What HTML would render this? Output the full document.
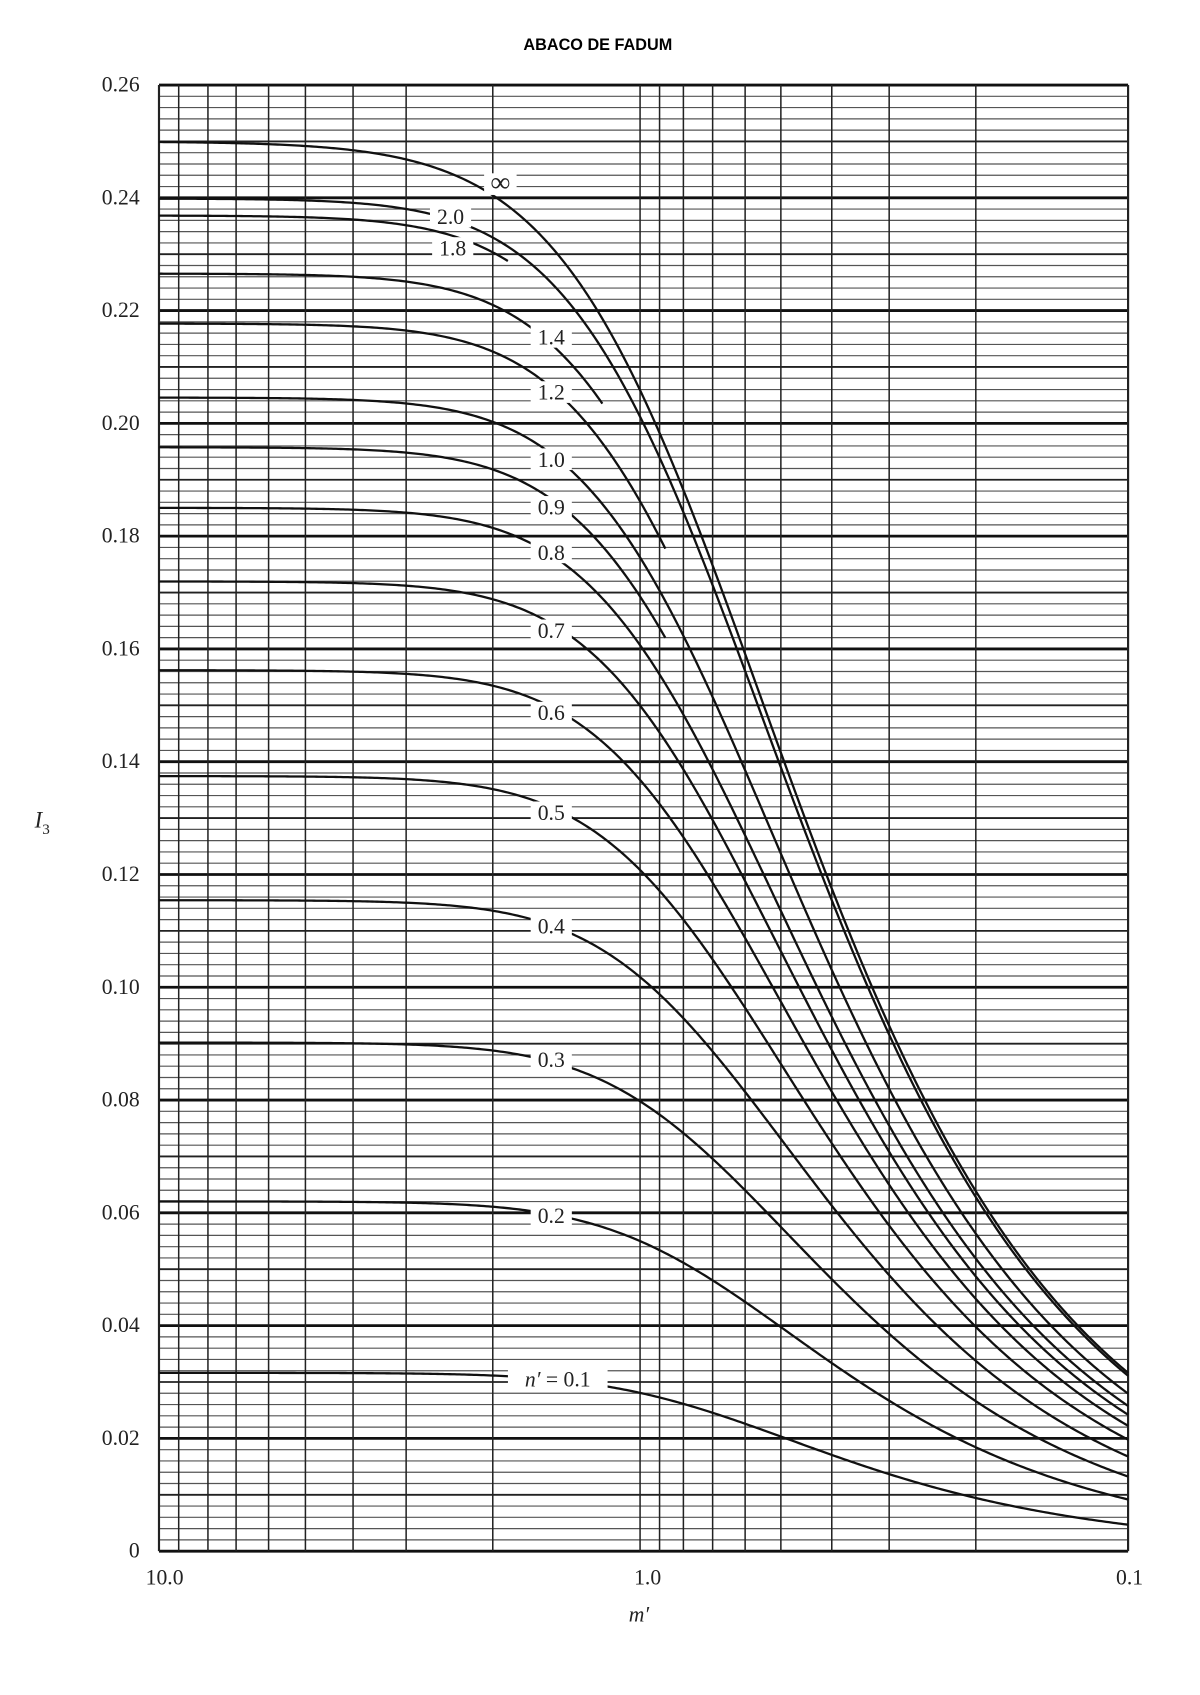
<!DOCTYPE html>
<html><head><meta charset="utf-8"><style>
html,body{margin:0;padding:0;background:#fff;}
svg{display:block;}
text{font-family:"Liberation Serif",serif;fill:#222;}
</style></head><body>
<svg id="s" width="1200" height="1695" viewBox="0 0 1108 1565" preserveAspectRatio="none" xmlns="http://www.w3.org/2000/svg">
<rect x="0" y="0" width="1108" height="1565" fill="#fff"/>
<g id="grid"></g>
<g id="curves" fill="none" stroke="#111" stroke-width="2.1"></g>
<g id="labels"></g>
<text x="552" y="46" text-anchor="middle" style="font-family:'Liberation Sans',sans-serif;font-weight:bold;font-size:15px;fill:#000">ABACO DE FADUM</text>
<g font-size="20" text-anchor="end" id="ylab"></g>
<text x="152" y="1463" font-size="20" text-anchor="middle">10.0</text>
<text x="598" y="1463" font-size="20" text-anchor="middle">1.0</text>
<text x="1043" y="1463" font-size="20" text-anchor="middle">0.1</text>
<text x="590" y="1497" font-size="20" font-style="italic" text-anchor="middle">m′</text>
<text x="32" y="764" font-size="21" font-style="italic">I<tspan font-size="14" font-style="normal" dy="6">3</tspan></text>
</svg>
<script>
var NS="http://www.w3.org/2000/svg";
var L=146.8,R=1041.6,T=78.5,B=1432.2;
var px=[146.8,165,192,218,248,282,326,375,455,591,609,631,658,688,721,768,821,901,1041.6];
function X(m){return L+Math.log10(10/m)*(R-L)/2;}
function Y(v){return B-v*5206.5;}
function el(t,a,p){var e=document.createElementNS(NS,t);for(var k in a)e.setAttribute(k,a[k]);p.appendChild(e);return e;}
var g=document.getElementById('grid');
for(var i=0;i<=130;i++){var v=i*0.002,y=Y(v);var w=1.1,c="#555";
 if(i%10==0){w=2.6;c="#111";}else if(i%5==0){w=1.7;c="#222";}
 el('line',{x1:L,x2:R,y1:y,y2:y,stroke:c,'stroke-width':w},g);}
px.forEach(function(x,j){el('line',{x1:x,x2:x,y1:T,y2:B,stroke:"#222",'stroke-width':(j==0||j==px.length-1)?2:1.4},g);});
var yl=document.getElementById('ylab');
for(var i=0;i<=13;i++){var v=i*0.02;var t=el('text',{x:129,y:Y(v)+6},yl);t.textContent=(i==0?"0":v.toFixed(2));}
function I3(m,n){var m2=m*m,n2=n*n,s=Math.sqrt(m2+n2+1);
 var a=2*m*n*s/(m2+n2+m2*n2+1)*(m2+n2+2)/(m2+n2+1);
 var b=Math.atan2(2*m*n*s,m2+n2+1-m2*n2);return (a+b)/(4*Math.PI);}
var cg=document.getElementById('curves');
var ns=[[1e5,0.1],[2,0.1],[1.8,1.895],[1.4,1.21],[1.2,0.9],[1.0,0.1],[0.9,0.9],[0.8,0.1],[0.7,0.1],[0.6,0.1],[0.5,0.1],[0.4,0.1],[0.3,0.1],[0.2,0.1],[0.1,0.1]];
ns.forEach(function(p){var nn=p[0],mend=p[1],d="";
 for(var k=0;k<=400;k++){var m=10*Math.pow(10,-2*k/400);if(m<mend-1e-9)break;
  d+=(k?"L":"M")+X(m).toFixed(2)+","+Y(I3(m,nn)).toFixed(2);}
 el('path',{d:d},cg);});
var lg=document.getElementById('labels');
var labs=[["∞",462,170,30],["2.0",416,200,38],["1.8",418,229,38],["1.4",509,311,38],["1.2",509,362,38],["1.0",509,424,38],["0.9",509,468,38],["0.8",509,510,38],["0.7",509,582,38],["0.6",509,658,38],["0.5",509,750,38],["0.4",509,855,38],["0.3",509,978,38],["0.2",509,1122,38],["n′ = 0.1",515,1273,92]];
labs.forEach(function(l){el('rect',{x:l[1]-l[3]/2,y:l[2]-10,width:l[3],height:20,fill:"#fff"},lg);
 var t=el('text',{x:l[1],y:l[2]+7,'font-size':l[0]=="∞"?26:20,'text-anchor':'middle'},lg);
 if(l[0].charAt(0)=="n"){var a=el('tspan',{'font-style':'italic'},t);a.textContent="n′";var b=el('tspan',{},t);b.textContent=" = 0.1";}
 else t.textContent=l[0];});
</script>
</body></html>
